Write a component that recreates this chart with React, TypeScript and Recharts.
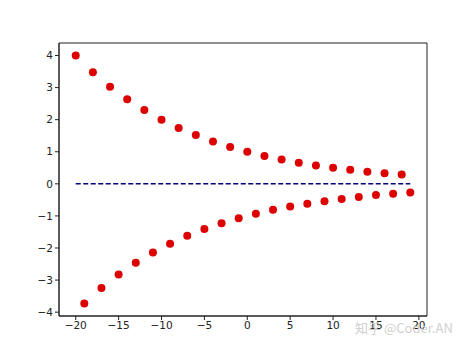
import { ScatterChart, Scatter, XAxis, YAxis, ReferenceArea } from 'recharts';

// even x -> values above the axis, odd x -> values below
const upperX = [-20, -18, -16, -14, -12, -10, -8, -6, -4, -2, 0, 2, 4, 6, 8, 10, 12, 14, 16, 18];
const upperY = [4, 3.48, 3.03, 2.64, 2.3, 2.0, 1.74, 1.52, 1.32, 1.15, 1.0, 0.87, 0.76, 0.66, 0.57, 0.5, 0.44, 0.38, 0.33, 0.29];
const lowerX = [-19, -17, -15, -13, -11, -9, -7, -5, -3, -1, 1, 3, 5, 7, 9, 11, 13, 15, 17, 19];
const lowerY = [-3.73, -3.25, -2.83, -2.46, -2.14, -1.87, -1.62, -1.41, -1.23, -1.07, -0.93, -0.81, -0.71, -0.62, -0.54, -0.47, -0.41, -0.35, -0.31, -0.27];
const zeroX = [-20, 19];
const zeroY = [0, 0];

const xTicks = [-20, -15, -10, -5, 0, 5, 10, 15, 20];
const yTicks = [-4, -3, -2, -1, 0, 1, 2, 3, 4];

const toPoints = (xs: number[], ys: number[]) => xs.map((x, i) => ({ x, y: ys[i] }));

const upper = toPoints(upperX, upperY);
const lower = toPoints(lowerX, lowerY);
const zero = toPoints(zeroX, zeroY);

const minus = (v: number) => String(v).replace('-', '\u2212');
const tickStyle = { fill: '#222', fontSize: 10.5, fontFamily: 'DejaVu Sans' };
const xDomain = [-21.95, 20.95];
const yDomain = [-4.12, 4.39];

const Dot = (props: any) => <circle cx={props.cx} cy={props.cy} r={4} fill="#dd0000" />;
const NoDot = () => <g />;

export default function App() {
  return (
    <div style={{ position: 'absolute', left: 0, top: 0, width: 474, height: 355, background: '#fff' }}>
      <ScatterChart width={474} height={355} margin={{ top: 43, right: 47, bottom: 14, left: 19 }}>
        <XAxis
          type="number"
          dataKey="x"
          domain={xDomain}
          ticks={xTicks}
          allowDataOverflow
          height={25}
          tickSize={4}
          tickMargin={2}
          tick={tickStyle}
          tickFormatter={minus}
          stroke="#222"
        />
        <YAxis
          type="number"
          dataKey="y"
          domain={yDomain}
          ticks={yTicks}
          allowDataOverflow
          width={40}
          tickSize={4}
          tickMargin={2}
          tick={tickStyle}
          tickFormatter={minus}
          stroke="#222"
        />
        {/* axes frame */}
        <ReferenceArea
          x1={xDomain[0]}
          x2={xDomain[1]}
          y1={yDomain[0]}
          y2={yDomain[1]}
          fill="none"
          fillOpacity={0}
          stroke="#222"
          strokeWidth={1}
          ifOverflow="visible"
        />
        <Scatter
          data={zero}
          line={{ stroke: '#000080', strokeWidth: 1.5, strokeDasharray: '5 2.5' }}
          shape={NoDot}
          isAnimationActive={false}
        />
        <Scatter data={upper} shape={Dot} isAnimationActive={false} />
        <Scatter data={lower} shape={Dot} isAnimationActive={false} />
      </ScatterChart>
      <div
        style={{
          position: 'absolute',
          left: 355,
          top: 318,
          color: '#d0d0d0',
          fontSize: 13,
          fontFamily: '"Noto Sans CJK SC", "DejaVu Sans"',
          whiteSpace: 'nowrap',
        }}
      >
        知乎 @Coder.AN
      </div>
    </div>
  );
}
